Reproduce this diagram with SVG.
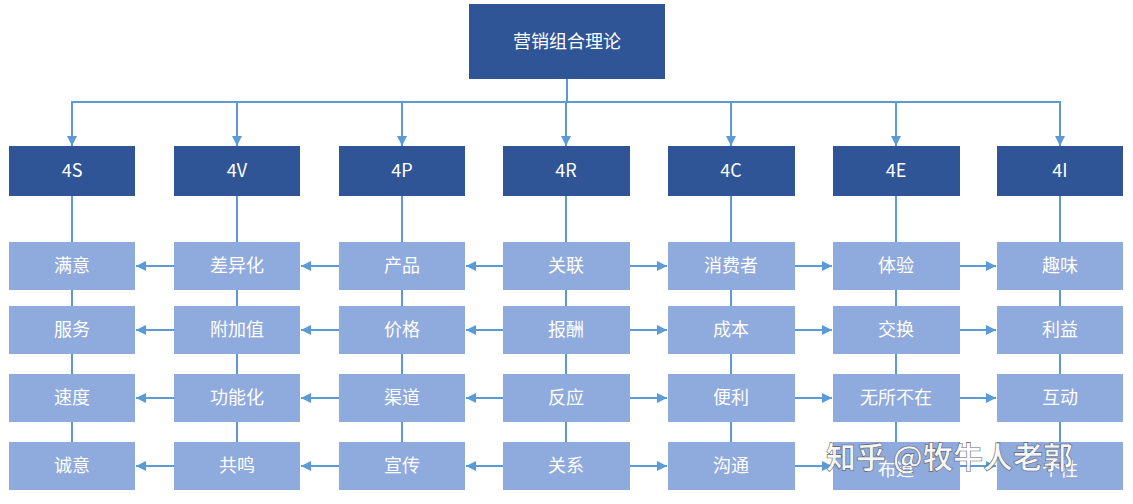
<svg xmlns="http://www.w3.org/2000/svg" width="1133" height="504" viewBox="0 0 1133 504">
<defs>
<style>
.d{fill:#2F5597}
.l{fill:#8FAADC}
.t{font-family:"Noto Sans CJK SC","Liberation Sans",sans-serif;font-size:18px;fill:#fff;text-anchor:middle;dominant-baseline:central}
.c{stroke:#5B9BD5;stroke-width:2;fill:none}
.w{font-family:"Noto Sans CJK SC",sans-serif;font-size:30px;font-weight:bold;fill:#fff;stroke:#555;stroke-width:0.6;opacity:0.9}
</style>
<marker id="a" viewBox="0 0 10 10" refX="10" refY="5" markerWidth="5" markerHeight="5" orient="auto"><path d="M0,0L10,5L0,10z" fill="#5B9BD5"/></marker>
</defs>
<rect width="1133" height="504" fill="#fff"/>
<g id="connectors" class="c">
<path d="M567,79V102M71,102H1061"/>
<path d="M72,196V490M237,196V490M402,196V490M566,196V490M731,196V490M896,196V490M1060,196V490"/>
<g marker-end="url(#a)">
<path d="M72,102V146"/><path d="M237,102V146"/><path d="M402,102V146"/><path d="M566,102V146"/><path d="M731,102V146"/><path d="M896,102V146"/><path d="M1060,102V146"/>
<path d="M174,266H136"/><path d="M339,266H301"/><path d="M503,266H466"/><path d="M630,266H667"/><path d="M795,266H832"/><path d="M960,266H996"/>
<path d="M174,330H136"/><path d="M339,330H301"/><path d="M503,330H466"/><path d="M630,330H667"/><path d="M795,330H832"/><path d="M960,330H996"/>
<path d="M174,398H136"/><path d="M339,398H301"/><path d="M503,398H466"/><path d="M630,398H667"/><path d="M795,398H832"/><path d="M960,398H996"/>
<path d="M174,466H136"/><path d="M339,466H301"/><path d="M503,466H466"/><path d="M630,466H667"/><path d="M795,466H832"/><path d="M960,466H996"/>
</g>
</g>
<g id="root"><rect class="d" x="469" y="4" width="196" height="75"/><text class="t" x="567" y="40">营销组合理论</text></g>
<g id="h4S"><rect class="d" x="9" y="146" width="126" height="50"/><text class="t" x="72" y="169">4S</text></g>
<g id="h4V"><rect class="d" x="174" y="146" width="126" height="50"/><text class="t" x="237" y="169">4V</text></g>
<g id="h4P"><rect class="d" x="339" y="146" width="126" height="50"/><text class="t" x="402" y="169">4P</text></g>
<g id="h4R"><rect class="d" x="503" y="146" width="127" height="50"/><text class="t" x="566" y="169">4R</text></g>
<g id="h4C"><rect class="d" x="668" y="146" width="127" height="50"/><text class="t" x="731" y="169">4C</text></g>
<g id="h4E"><rect class="d" x="833" y="146" width="127" height="50"/><text class="t" x="896" y="169">4E</text></g>
<g id="h4I"><rect class="d" x="997" y="146" width="126" height="50"/><text class="t" x="1060" y="169">4I</text></g>
<g id="s1"><rect class="l" x="9" y="242" width="126" height="48"/><text class="t" x="72" y="264">满意</text></g>
<g id="s2"><rect class="l" x="9" y="306" width="126" height="48"/><text class="t" x="72" y="328">服务</text></g>
<g id="s3"><rect class="l" x="9" y="374" width="126" height="48"/><text class="t" x="72" y="396">速度</text></g>
<g id="s4"><rect class="l" x="9" y="442" width="126" height="48"/><text class="t" x="72" y="464">诚意</text></g>
<g id="v1"><rect class="l" x="174" y="242" width="126" height="48"/><text class="t" x="237" y="264">差异化</text></g>
<g id="v2"><rect class="l" x="174" y="306" width="126" height="48"/><text class="t" x="237" y="328">附加值</text></g>
<g id="v3"><rect class="l" x="174" y="374" width="126" height="48"/><text class="t" x="237" y="396">功能化</text></g>
<g id="v4"><rect class="l" x="174" y="442" width="126" height="48"/><text class="t" x="237" y="464">共鸣</text></g>
<g id="p1"><rect class="l" x="339" y="242" width="126" height="48"/><text class="t" x="402" y="264">产品</text></g>
<g id="p2"><rect class="l" x="339" y="306" width="126" height="48"/><text class="t" x="402" y="328">价格</text></g>
<g id="p3"><rect class="l" x="339" y="374" width="126" height="48"/><text class="t" x="402" y="396">渠道</text></g>
<g id="p4"><rect class="l" x="339" y="442" width="126" height="48"/><text class="t" x="402" y="464">宣传</text></g>
<g id="r1"><rect class="l" x="503" y="242" width="127" height="48"/><text class="t" x="566" y="264">关联</text></g>
<g id="r2"><rect class="l" x="503" y="306" width="127" height="48"/><text class="t" x="566" y="328">报酬</text></g>
<g id="r3"><rect class="l" x="503" y="374" width="127" height="48"/><text class="t" x="566" y="396">反应</text></g>
<g id="r4"><rect class="l" x="503" y="442" width="127" height="48"/><text class="t" x="566" y="464">关系</text></g>
<g id="c1"><rect class="l" x="668" y="242" width="127" height="48"/><text class="t" x="731" y="264">消费者</text></g>
<g id="c2"><rect class="l" x="668" y="306" width="127" height="48"/><text class="t" x="731" y="328">成本</text></g>
<g id="c3"><rect class="l" x="668" y="374" width="127" height="48"/><text class="t" x="731" y="396">便利</text></g>
<g id="c4"><rect class="l" x="668" y="442" width="127" height="48"/><text class="t" x="731" y="464">沟通</text></g>
<g id="e1"><rect class="l" x="833" y="242" width="127" height="48"/><text class="t" x="896" y="264">体验</text></g>
<g id="e2"><rect class="l" x="833" y="306" width="127" height="48"/><text class="t" x="896" y="328">交换</text></g>
<g id="e3"><rect class="l" x="833" y="374" width="127" height="48"/><text class="t" x="896" y="396">无所不在</text></g>
<g id="e4"><rect class="l" x="833" y="442" width="127" height="48"/><text class="t" x="896" y="468">布道</text></g>
<g id="i1"><rect class="l" x="997" y="242" width="126" height="48"/><text class="t" x="1060" y="264">趣味</text></g>
<g id="i2"><rect class="l" x="997" y="306" width="126" height="48"/><text class="t" x="1060" y="328">利益</text></g>
<g id="i3"><rect class="l" x="997" y="374" width="126" height="48"/><text class="t" x="1060" y="396">互动</text></g>
<g id="i4"><rect class="l" x="997" y="442" width="126" height="48"/><text class="t" x="1060" y="468">个性</text></g>
<text class="w" x="826" y="468">知乎 @牧牛人老郭</text>
</svg>
